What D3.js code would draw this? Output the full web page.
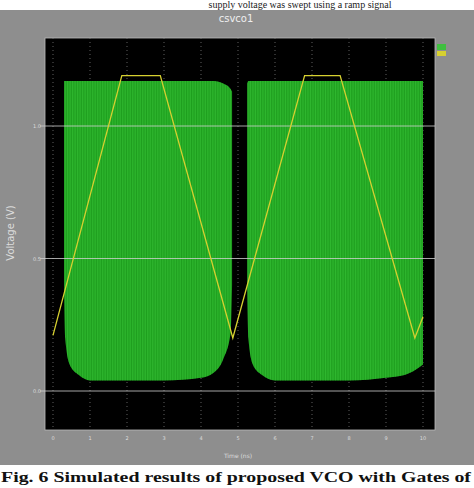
<!DOCTYPE html>
<html><head><meta charset="utf-8">
<script src="https://cdn.jsdelivr.net/npm/d3@7"></script>
<style>body{margin:0;background:#fff}svg{display:block}</style>
</head><body>
<svg id="c" width="474" height="488"></svg>
<script>
// ticks
const xTicks = [0, 1, 2, 3, 4, 5, 6, 7, 8, 9, 10];
const yTicks = [0, 0.5, 1.0];

// yellow control voltage (time ns, V)
const ctrlT = [0, 1.86, 2.9, 4.86, 6.8, 7.76, 9.78, 10];
const ctrlV = [0.21, 1.19, 1.19, 0.2, 1.19, 1.19, 0.2, 0.28];

// green oscillation envelope per burst (time, high, low)
const burstT = [[0.3, 0.33, 0.45, 0.7, 1.0, 2.0, 3.0, 4.0, 4.35, 4.6, 4.8, 4.84],
                [5.25, 5.28, 5.4, 5.65, 6.0, 7.0, 8.0, 9.0, 9.5, 9.8, 10.0]];
const burstHi = [[1.17, 1.17, 1.17, 1.17, 1.17, 1.17, 1.17, 1.17, 1.17, 1.16, 1.14, 1.13],
                 [1.16, 1.17, 1.17, 1.17, 1.17, 1.17, 1.17, 1.17, 1.17, 1.17, 1.17]];
const burstLo = [[0.4, 0.2, 0.1, 0.06, 0.04, 0.04, 0.04, 0.05, 0.07, 0.12, 0.22, 0.4],
                 [0.4, 0.2, 0.1, 0.06, 0.04, 0.04, 0.04, 0.05, 0.06, 0.08, 0.1]];

const svg = d3.select("#c");
svg.append("text").attr("x", 300).attr("y", 8).attr("text-anchor", "middle")
  .attr("font-family", "Liberation Serif").attr("font-size", 10).attr("fill", "#222")
  .text("supply voltage was swept using a ramp signal");
svg.append("rect").attr("x", 0).attr("y", 10).attr("width", 474).attr("height", 455).attr("fill", "#8e8e8e");
svg.append("text").attr("x", 236).attr("y", 22).attr("text-anchor", "middle")
  .attr("font-family", "DejaVu Sans").attr("font-size", 10).attr("fill", "#eee").text("csvco1");

const x = d3.scaleLinear().domain([0, 10]).range([53, 423]);
const y = d3.scaleLinear().domain([0, 1]).range([391, 126]);

svg.append("rect").attr("x", 45).attr("y", 38).attr("width", 390).attr("height", 392).attr("fill", "#000")
  .attr("stroke", "#bbb").attr("stroke-width", 0.8);

const g = svg.append("g");
g.selectAll("line.vg").data(xTicks).join("line").attr("class", "vg")
  .attr("x1", d => x(d)).attr("x2", d => x(d)).attr("y1", 38).attr("y2", 430)
  .attr("stroke", "#777").attr("stroke-dasharray", "1,3").attr("stroke-width", 0.8);

bursts();
function bursts() {
  burstT.forEach((ts, i) => {
    const pts = ts.map((t, j) => ({t, hi: burstHi[i][j], lo: burstLo[i][j]}));
    const area = d3.area().x(d => x(d.t)).y0(d => y(d.lo)).y1(d => y(d.hi)).curve(d3.curveMonotoneX);
    g.append("path").datum(pts).attr("d", area).attr("fill", "#1d9a1d");
    // oscillation strokes along the burst
    const clipId = "cl" + i;
    svg.append("clipPath").attr("id", clipId).append("path").datum(pts).attr("d", area);
    const steps = d3.range(ts[0], ts[ts.length - 1], 0.045);
    g.append("g").attr("clip-path", `url(#${clipId})`).selectAll("line").data(steps).join("line")
      .attr("x1", d => x(d)).attr("x2", d => x(d)).attr("y1", 38).attr("y2", 430)
      .attr("stroke", "#3fcf3f").attr("stroke-width", 0.7).attr("opacity", 0.8);
  });
}

g.selectAll("line.hg").data(yTicks).join("line").attr("class", "hg")
  .attr("x1", 40).attr("x2", 435).attr("y1", d => y(d)).attr("y2", d => y(d))
  .attr("stroke", "#cfcfcf").attr("stroke-width", 0.8);

const ctrl = ctrlT.map((t, i) => [x(t), y(ctrlV[i])]);
g.append("path").attr("d", d3.line()(ctrl)).attr("fill", "none").attr("stroke", "#d6d030").attr("stroke-width", 1.3);

// axis labels
svg.selectAll("text.xt").data(xTicks).join("text").attr("class", "xt")
  .attr("x", d => x(d)).attr("y", 440).attr("text-anchor", "middle")
  .attr("font-family", "DejaVu Sans").attr("font-size", 5).attr("fill", "#ddd").text(d => d);
svg.selectAll("text.yt").data(yTicks).join("text").attr("class", "yt")
  .attr("x", 41).attr("y", d => y(d) + 2).attr("text-anchor", "end")
  .attr("font-family", "DejaVu Sans").attr("font-size", 5).attr("fill", "#ddd").text(d => d.toFixed(1));
svg.append("text").attr("x", 238).attr("y", 458).attr("text-anchor", "middle")
  .attr("font-family", "DejaVu Sans").attr("font-size", 6).attr("fill", "#ddd").text("Time (ns)");
svg.append("text").attr("transform", "translate(14,233) rotate(-90)").attr("text-anchor", "middle")
  .attr("font-family", "DejaVu Sans").attr("font-size", 10).attr("fill", "#ddd").text("Voltage (V)");

// legend patches
svg.append("rect").attr("x", 437).attr("y", 44).attr("width", 9).attr("height", 6).attr("fill", "#3fbf3f");
svg.append("rect").attr("x", 437).attr("y", 51).attr("width", 9).attr("height", 5).attr("fill", "#d6d030");

svg.append("text").attr("x", 1).attr("y", 482)
  .attr("font-family", "Liberation Serif").attr("font-weight", "bold").attr("font-size", 15).attr("fill", "#111")
  .attr("textLength", 470).attr("lengthAdjust", "spacingAndGlyphs")
  .text("Fig. 6    Simulated results of proposed VCO with Gates of");
</script>
</body></html>
